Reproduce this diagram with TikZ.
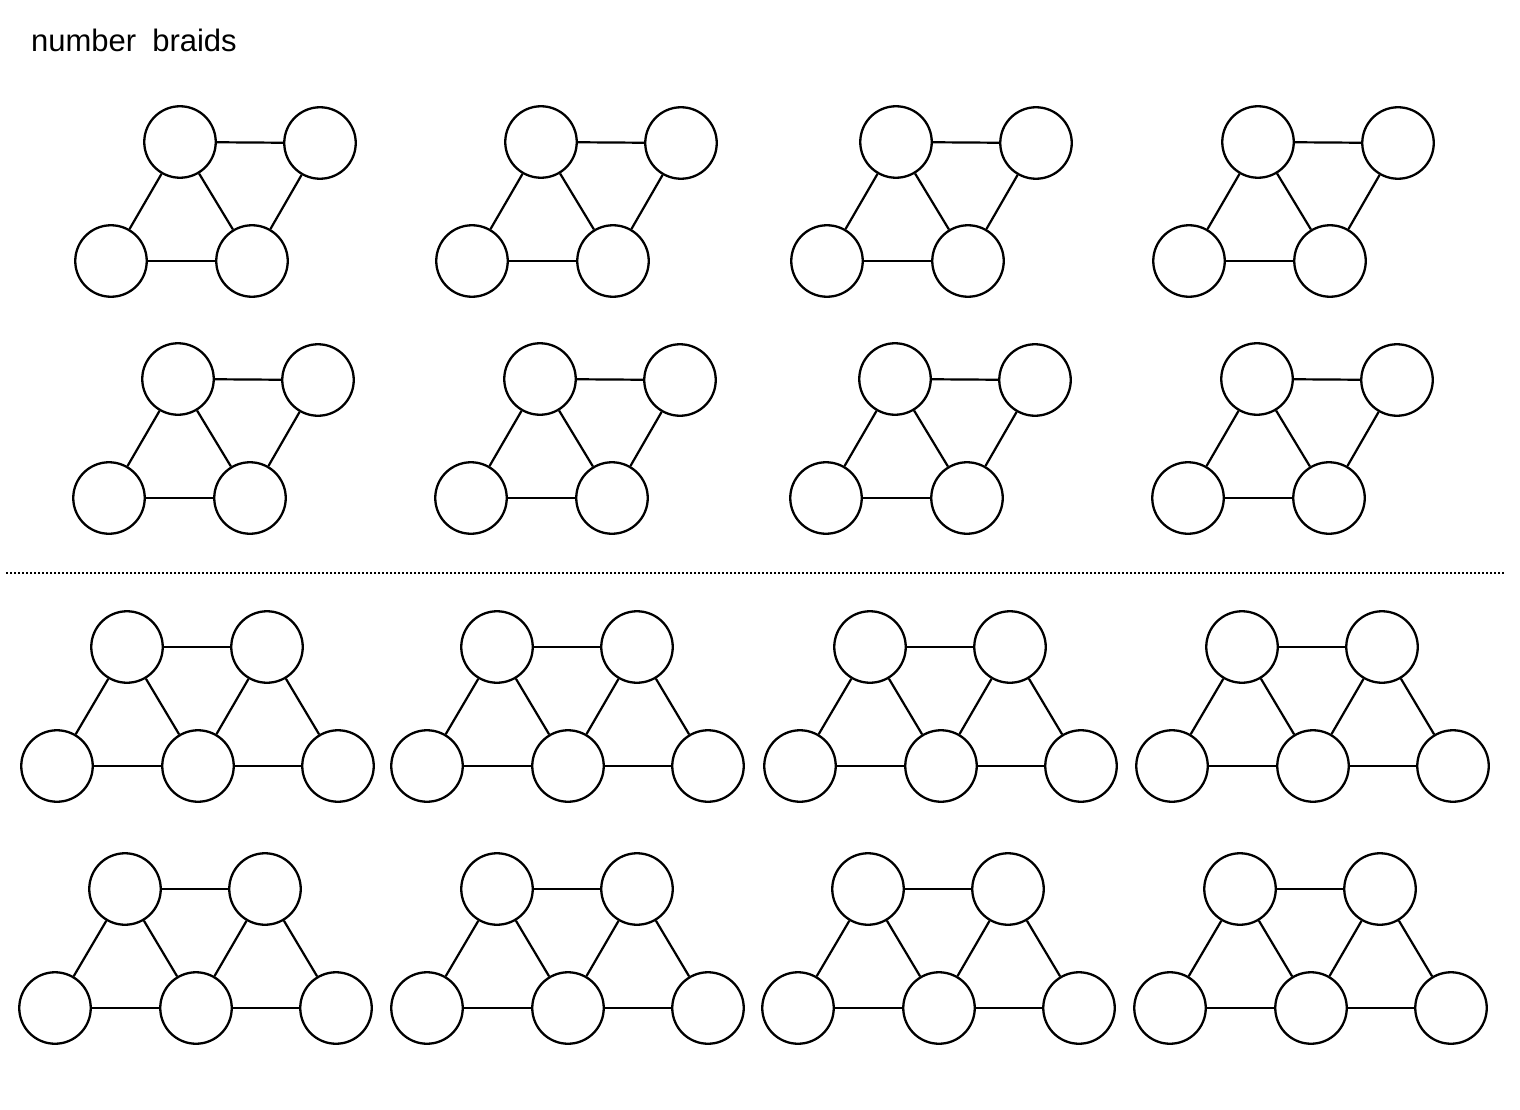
\documentclass[tikz,border=0pt]{standalone}
\usepackage{fontspec}
\setmainfont{Liberation Sans}
\begin{document}
\begin{tikzpicture}[x=1pt,y=-1pt,
  nd/.style={circle,draw,line width=2.3pt,minimum size=71.5pt,inner sep=0pt},
  ed/.style={line width=2.2pt}]
\useasboundingbox (0,0) rectangle (1520,1110);
\node[anchor=base west,inner sep=0pt,font=\fontsize{31}{36}\selectfont] (title) at (31,52) {number\hspace{16pt}braids};
\coordinate (dl) at (6,573);
\coordinate (dr) at (1505,573);
\draw[line width=1.8pt,dash pattern=on 2pt off 2pt] (dl) -- (dr);
% four-node braids
\foreach \x/\y/\g in {180/142/a,541/142/b,896/142/c,1258/142/d,178/379/e,540/379/f,895/379/g,1257/379/h} {
  \node[nd] (\g1) at (\x,\y) {};
  \node[nd] (\g2) at (\x+140,\y+1) {};
  \node[nd] (\g3) at (\x-69,\y+119) {};
  \node[nd] (\g4) at (\x+72,\y+119) {};
  \draw[ed] (\g1) -- (\g2);
  \draw[ed] (\g1) -- (\g3);
  \draw[ed] (\g1) -- (\g4);
  \draw[ed] (\g2) -- (\g4);
  \draw[ed] (\g3) -- (\g4);
}
% five-node braids
\foreach \x/\y/\g in {127/647/p,497/647/q,870/647/r,1242/647/s,125/889/t,497/889/u,868/889/v,1240/889/w} {
  \node[nd] (\g1) at (\x,\y) {};
  \node[nd] (\g2) at (\x+140,\y) {};
  \node[nd] (\g3) at (\x-70,\y+119) {};
  \node[nd] (\g4) at (\x+71,\y+119) {};
  \node[nd] (\g5) at (\x+211,\y+119) {};
  \draw[ed] (\g1) -- (\g2);
  \draw[ed] (\g1) -- (\g3);
  \draw[ed] (\g1) -- (\g4);
  \draw[ed] (\g2) -- (\g4);
  \draw[ed] (\g2) -- (\g5);
  \draw[ed] (\g3) -- (\g4);
  \draw[ed] (\g4) -- (\g5);
}
\end{tikzpicture}
\end{document}
